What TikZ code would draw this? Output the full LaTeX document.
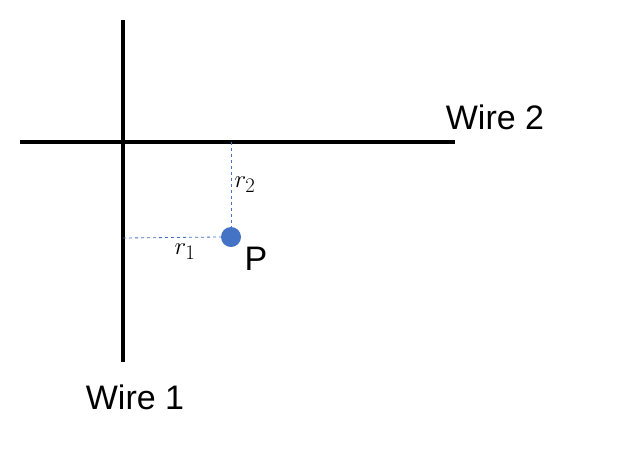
\documentclass[tikz,border=0pt]{standalone}
\usepackage{fontspec}
\setsansfont{Liberation Sans}
\definecolor{dot}{HTML}{4472C4}
\begin{document}
\begin{tikzpicture}[x=1pt,y=-1pt,
  wire/.style={line width=3.5pt},
  guide/.style={dashed,draw=dot,line width=0.8pt},
  lbl/.style={font=\sffamily\fontsize{34}{38}\selectfont},
  rl/.style={font=\fontsize{32}{36}\selectfont}]
\useasboundingbox (0,0) rectangle (628,448);
\coordinate (w1t) at (123,20); \coordinate (w1b) at (123,362);
\coordinate (w2l) at (20,142); \coordinate (w2r) at (455,142);
\coordinate (foot2) at (231,142); \coordinate (foot1) at (123,238);
\draw[wire] (w1t) -- (w1b);
\draw[wire] (w2l) -- (w2r);
\node[circle,fill=dot,minimum size=20pt,inner sep=0pt] (p) at (231,237) {};
\draw[guide] (foot2) -- (p.north);
\draw[guide] (foot1) -- (p.west);
\node[rl] (r2) at (245,185) {$r_2$};
\node[rl] (r1) at (185,252) {$r_1$};
\node[lbl] (pl) at (256,259) {P};
\node[lbl] (l2) at (495,117) {Wire 2};
\node[lbl] (l1) at (135,397) {Wire 1};
\end{tikzpicture}
\end{document}
